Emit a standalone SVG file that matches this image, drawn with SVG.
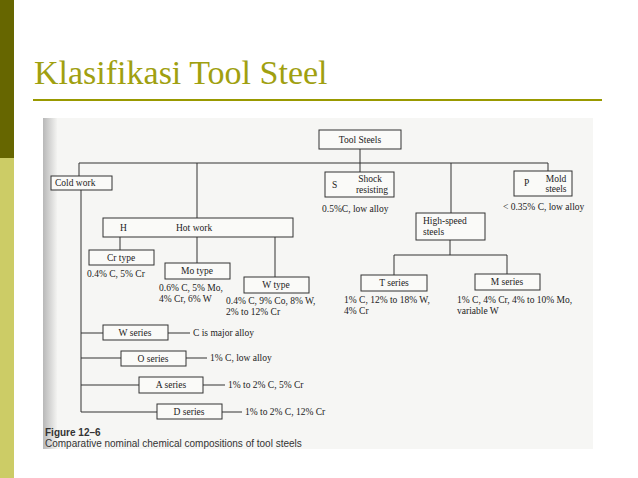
<svg xmlns="http://www.w3.org/2000/svg" width="638" height="478" viewBox="0 0 638 478">
<defs>
<linearGradient id="edge" x1="0" x2="1" y1="0" y2="0">
<stop offset="0" stop-color="#b8b8b8"/><stop offset="1" stop-color="#f3f3f1"/>
</linearGradient>
</defs>
<style>
.b{fill:#fafaf8;stroke:#333;stroke-width:1}
.l{stroke:#333;stroke-width:1;fill:none}
text{font-family:"Liberation Serif",serif;font-size:9.5px;fill:#222}
.c{text-anchor:middle}
.cap{font-family:"Liberation Sans",sans-serif;font-size:10px;fill:#333}
.title{font-family:"Liberation Serif",serif;font-size:34px;fill:#a0a010}
</style>
<rect width="638" height="478" fill="#ffffff"/>
<rect x="0" y="0" width="14" height="158" fill="#666600"/>
<rect x="0" y="158" width="14" height="320" fill="#cccc66"/>
<text class="title" x="34" y="84">Klasifikasi Tool Steel</text>
<rect x="33" y="99" width="569" height="2" fill="#999900"/>
<rect x="43" y="118" width="550" height="331" fill="#f6f6f4"/>
<rect x="43" y="118" width="14" height="331" fill="url(#edge)"/>
<g id="connectors">
<path class="l" d="M360 149V163M79 163H548M79 163V176M197 163V218M360 163V172M451 163V213M548 163V171"/>
<path class="l" d="M81 190V412M120 237V250M197 237V263M275 237V277"/>
<path class="l" d="M450 240V255M394 255H507M394 255V275M507 255V274"/>
<path class="l" d="M81 333H103M168 333H190M81 358H121M186 358H207M81 385H139M203 385H225M81 412H157M222 412H242"/>
</g>
<g id="tool"><rect class="b" x="319" y="130" width="82" height="19"/><text class="c" x="360" y="143">Tool Steels</text></g>
<g id="cold"><rect class="b" x="51" y="176" width="61" height="14"/><text x="55" y="186">Cold work</text></g>
<g id="shock"><rect class="b" x="325" y="172" width="69" height="25"/><text x="332" y="188">S</text><text class="c" x="370" y="182">Shock</text><text class="c" x="372" y="193">resisting</text><text x="322" y="212">0.5%C, low alloy</text></g>
<g id="mold"><rect class="b" x="514" y="171" width="58" height="25"/><text x="524" y="186">P</text><text class="c" x="556" y="182">Mold</text><text class="c" x="556" y="192">steels</text><text x="503" y="210">&lt; 0.35% C, low alloy</text></g>
<g id="hot"><rect class="b" x="103" y="218" width="190" height="19"/><text x="120" y="231">H</text><text x="176" y="231">Hot work</text></g>
<g id="hss"><rect class="b" x="416" y="213" width="69" height="27"/><text x="423" y="224">High-speed</text><text x="423" y="235">steels</text></g>
<g id="cr"><rect class="b" x="89" y="250" width="65" height="15"/><text class="c" x="121" y="261">Cr type</text><text x="87" y="277">0.4% C, 5% Cr</text></g>
<g id="mo"><rect class="b" x="165" y="263" width="65" height="16"/><text class="c" x="197" y="274">Mo type</text><text x="159" y="291">0.6% C, 5% Mo,</text><text x="159" y="302">4% Cr, 6% W</text></g>
<g id="w"><rect class="b" x="244" y="277" width="65" height="16"/><text class="c" x="276" y="288">W type</text><text x="226" y="304">0.4% C, 9% Co, 8% W,</text><text x="226" y="315">2% to 12% Cr</text></g>
<g id="t"><rect class="b" x="361" y="275" width="66" height="16"/><text class="c" x="394" y="286">T series</text><text x="344" y="303">1% C, 12% to 18% W,</text><text x="344" y="314">4% Cr</text></g>
<g id="m"><rect class="b" x="475" y="274" width="65" height="16"/><text class="c" x="507" y="285">M series</text><text x="457" y="303">1% C, 4% Cr, 4% to 10% Mo,</text><text x="457" y="314">variable W</text></g>
<g id="ws"><rect class="b" x="103" y="325" width="65" height="15"/><text class="c" x="135" y="336">W series</text><text x="193" y="336">C is major alloy</text></g>
<g id="os"><rect class="b" x="121" y="351" width="65" height="15"/><text class="c" x="153" y="362">O series</text><text x="210" y="361">1% C, low alloy</text></g>
<g id="as"><rect class="b" x="139" y="377" width="64" height="16"/><text class="c" x="171" y="388">A series</text><text x="228" y="388">1% to 2% C, 5% Cr</text></g>
<g id="ds"><rect class="b" x="157" y="404" width="65" height="15"/><text class="c" x="189" y="415">D series</text><text x="245" y="415">1% to 2% C, 12% Cr</text></g>
<text class="cap" x="45" y="436" style="font-weight:bold">Figure 12–6</text>
<text class="cap" x="45" y="447">Comparative nominal chemical compositions of tool steels</text>
</svg>
